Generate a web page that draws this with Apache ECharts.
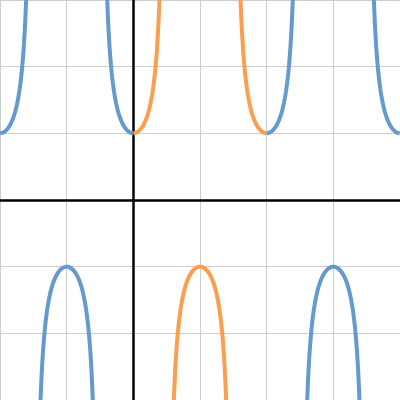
<!DOCTYPE html>
<html><head><meta charset="utf-8">
<script src="https://cdn.jsdelivr.net/npm/echarts@6/dist/echarts.min.js"></script>
<style>html,body{margin:0;padding:0;}#c{width:400px;height:400px;}</style>
</head><body><div id="c"></div>
<script>
// y = sec(pi x); blue outside [0,2], orange on [0,2]
const xRange = [-2, 4];
const yRange = [-3, 3];
const blueColor = '#6699cc';
const orangeColor = '#fa9e50';
function sample(a, b) {
  const pts = [];
  const n = 400;
  for (let i = 0; i <= n; i++) {
    const x = a + (b - a) * i / n;
    const c = Math.cos(Math.PI * x);
    if (Math.abs(c) < 1 / 8) { pts.push([x, null]); continue; }
    pts.push([x, 1 / c]);
  }
  return pts;
}
const blue1 = sample(-2, 0);
const orange = sample(0, 2);
const blue2 = sample(2, 4);
const chart = echarts.init(document.getElementById('c'));
const ls = (col) => ({ type: 'line', showSymbol: false, connectNulls: false, clip: true, lineStyle: { color: col, width: 4 }, itemStyle: { color: col } });
chart.setOption({
  animation: false,
  grid: { left: 0, right: 0, top: 0, bottom: 0 },
  xAxis: { type: 'value', min: xRange[0], max: xRange[1], interval: 1,
    axisLabel: { show: false }, axisTick: { show: false },
    axisLine: { onZero: true, lineStyle: { color: '#000', width: 2.5 } },
    splitLine: { lineStyle: { color: '#ccc', width: 1 } } },
  yAxis: { type: 'value', min: yRange[0], max: yRange[1], interval: 1,
    axisLabel: { show: false }, axisTick: { show: false },
    axisLine: { onZero: true, lineStyle: { color: '#000', width: 2.5 } },
    splitLine: { lineStyle: { color: '#ccc', width: 1 } } },
  series: [
    Object.assign(ls(blueColor), { data: blue1 }),
    Object.assign(ls(orangeColor), { data: orange }),
    Object.assign(ls(blueColor), { data: blue2 })
  ]
});
</script></body></html>
